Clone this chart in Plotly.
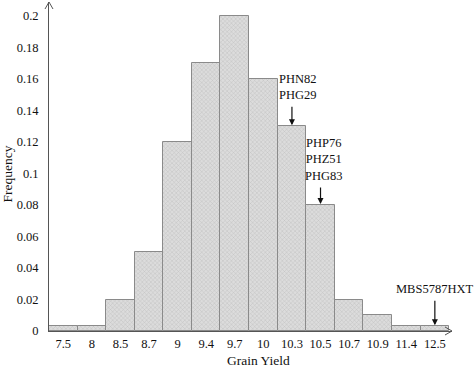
import plotly.graph_objects as go

categories = ["7.5", "8", "8.5", "8.7", "9", "9.4", "9.7", "10", "10.3", "10.5", "10.7", "10.9", "11.4", "12.5"]
frequency = [0.003, 0.003, 0.02, 0.05, 0.12, 0.17, 0.2, 0.16, 0.13, 0.08, 0.02, 0.01, 0.003, 0.003]
y_ticks = [0, 0.02, 0.04, 0.06, 0.08, 0.1, 0.12, 0.14, 0.16, 0.18, 0.2]
y_tick_text = ["0", "0.02", "0.04", "0.06", "0.08", "0.1", "0.12", "0.14", "0.16", "0.18", "0.2"]
labels = [("10.3", "PHN82<br>PHG29"), ("10.5", "PHP76<br>PHZ51<br>PHG83"), ("12.5", "MBS5787HXT")]

FONT = "Liberation Serif"
TXT = "#111111"

fig = go.Figure(go.Bar(
    x=categories, y=frequency, width=1,
    marker=dict(color="#d4d4d4", line=dict(color="#8a8a8a", width=1),
                pattern=dict(shape="x", size=3, solidity=0.25, fgcolor="#9a9a9a", bgcolor="#dcdcdc")),
    showlegend=False, hoverinfo="x+y",
))

freq_map = dict(zip(categories, frequency))
annotations = []
arrow_len = {"10.3": 21, "10.5": 19, "12.5": 27}
xshift = {"10.3": 6, "10.5": 3, "12.5": 0}
for cat, txt in labels:
    yv = freq_map[cat]
    xi = categories.index(cat)
    L = arrow_len[cat]
    annotations.append(dict(x=xi, y=yv, xref="x", yref="y", text="", showarrow=True,
                            ax=0, ay=-L, arrowhead=2, arrowsize=1, arrowwidth=1.2,
                            arrowcolor="#111", standoff=1))
    annotations.append(dict(x=xi, y=yv, xref="x", yref="y", text=txt, showarrow=False,
                            xanchor="center", yanchor="bottom", yshift=L + 1, xshift=xshift[cat],
                            align="center", font=dict(family=FONT, size=12.5, color=TXT)))

annotations.append(dict(x=0.5, y=0, xref="paper", yref="paper", text="Grain Yield", showarrow=False,
                        xanchor="center", yanchor="middle", yshift=-29, xshift=8,
                        font=dict(family=FONT, size=13.5, color=TXT)))
annotations.append(dict(x=0, y=0.5, xref="paper", yref="paper", text="Frequency", showarrow=False,
                        xanchor="center", yanchor="middle", xshift=-42, yshift=-8, textangle=-90,
                        font=dict(family=FONT, size=13.5, color=TXT)))

shapes = [
    dict(type="path", xref="paper", yref="paper", xsizemode="pixel", ysizemode="pixel",
         xanchor=1, yanchor=0, path="M -7,4 L 0,0 L -7,-4", line=dict(color="#555", width=1)),
    dict(type="path", xref="paper", yref="paper", xsizemode="pixel", ysizemode="pixel",
         xanchor=0, yanchor=1, path="M -4,-7 L 0,0 L 4,-7", line=dict(color="#555", width=1)),
]

fig.update_layout(
    width=474, height=370,
    margin=dict(l=49, r=22, t=2, b=39),
    paper_bgcolor="white", plot_bgcolor="white",
    bargap=0,
    font=dict(family=FONT, size=12.5, color=TXT),
    annotations=annotations, shapes=shapes,
    xaxis=dict(type="category", range=[-0.5, 13.6], showgrid=False, zeroline=False,
               showline=True, linecolor="#555", linewidth=1, ticks="", ticklabelstandoff=1,
               automargin=False, tickfont=dict(family=FONT, size=12.5, color=TXT)),
    yaxis=dict(range=[0, 0.2089], showgrid=False, zeroline=False, showline=True,
               linecolor="#555", linewidth=1, ticks="", tickvals=y_ticks, ticktext=y_tick_text,
               automargin=False, ticklabelstandoff=7, tickfont=dict(family=FONT, size=12.5, color=TXT)),
)

fig.write_html("out.html", config={"displayModeBar": False},
               post_script="document.body.style.margin='0';document.body.style.overflow='hidden';")
